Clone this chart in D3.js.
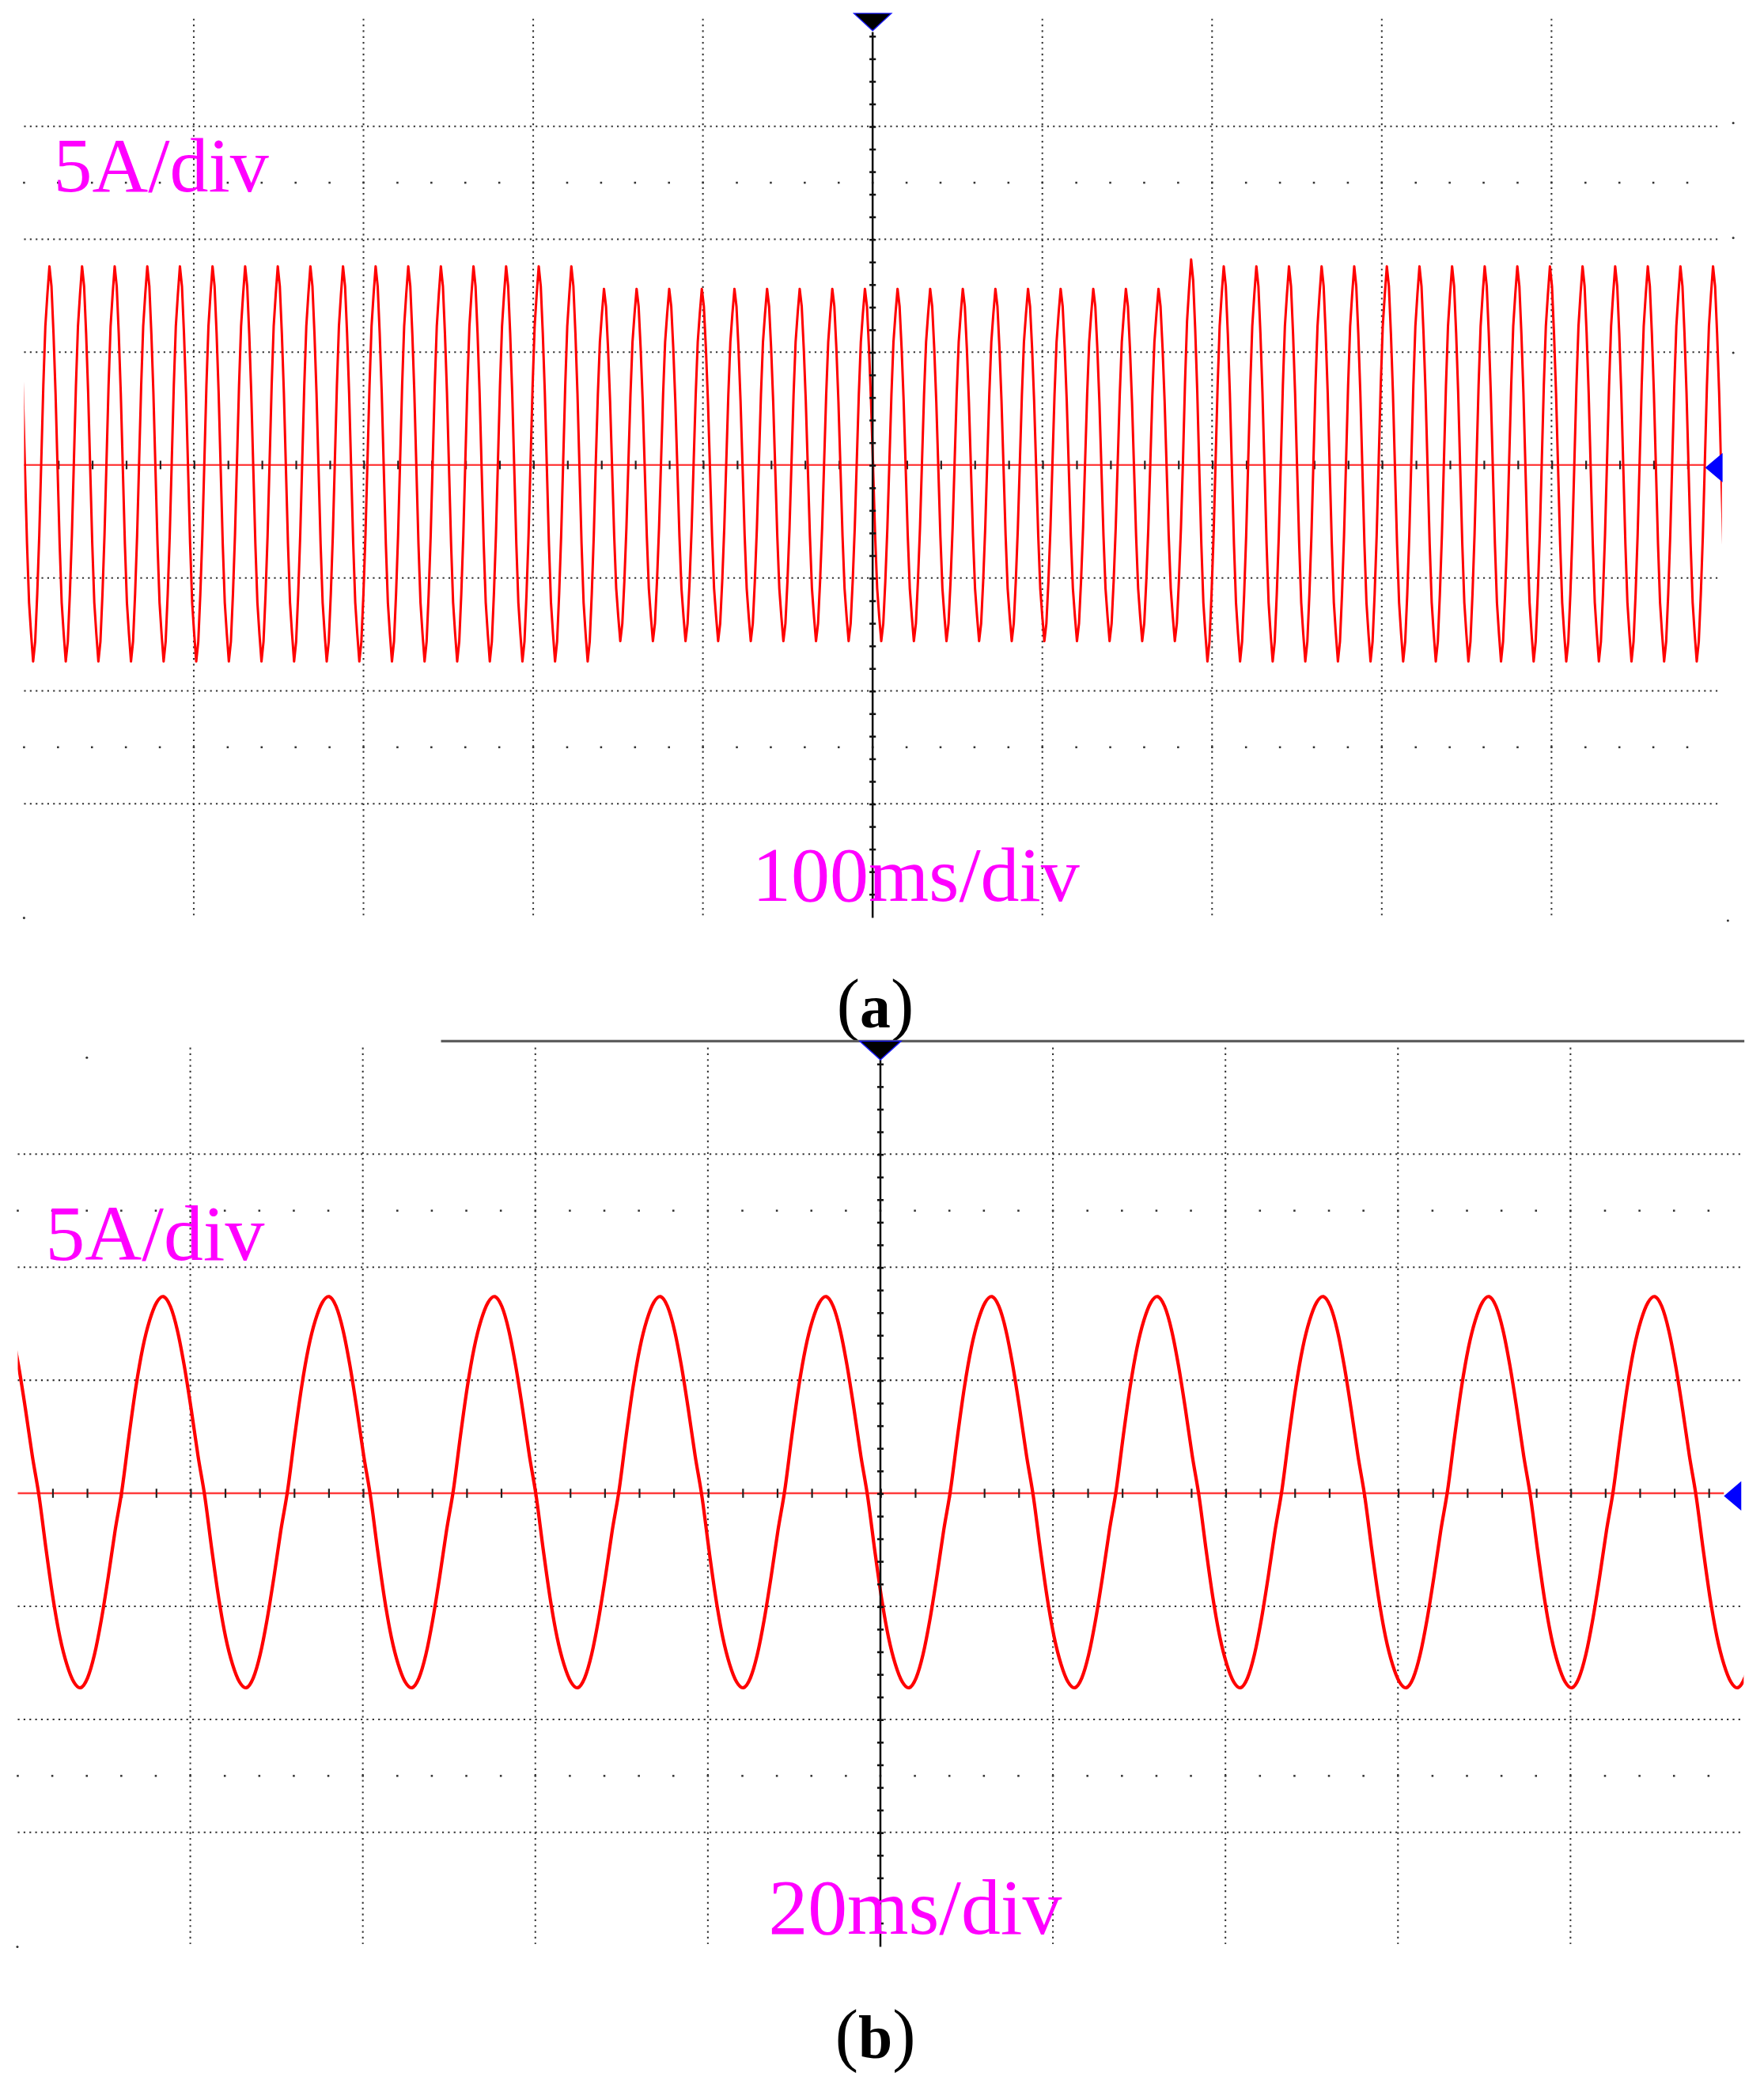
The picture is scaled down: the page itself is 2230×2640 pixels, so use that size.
<!DOCTYPE html>
<html>
<head>
<meta charset="utf-8">
<script src="https://cdn.jsdelivr.net/npm/d3@7"></script>
<style>
    body { margin: 0; background: #fff; }
    svg  { display: block; }
</style>
</head>
<body>
<svg id="chart"></svg>
<script>

// (a) 100 ms/div, 5 A/div: peak / trough current of every cycle (A).
// First entry is the partial cycle before the left edge.
const peaksA = [
    8.8,
    8.8, 8.8, 8.8, 8.8, 8.8, 8.8, 8.8, 8.8, 8.8, 8.8,
    8.8, 8.8, 8.8, 8.8, 8.8, 8.8, 8.8,
    7.8, 7.8, 7.8, 7.8, 7.8, 7.8, 7.8, 7.8, 7.8, 7.8,
    7.8, 7.8, 7.8, 7.8, 7.8, 7.8, 7.8, 7.8,
    9.1,
    8.8, 8.8, 8.8, 8.8, 8.8, 8.8, 8.8, 8.8, 8.8, 8.8,
    8.8, 8.8, 8.8, 8.8, 8.8, 8.8
];
const troughsA = [
    8.7,
    8.7, 8.7, 8.7, 8.7, 8.7, 8.7, 8.7, 8.7, 8.7, 8.7,
    8.7, 8.7, 8.7, 8.7, 8.7, 8.7, 8.7,
    7.8, 7.8, 7.8, 7.8, 7.8, 7.8, 7.8, 7.8, 7.8, 7.8,
    7.8, 7.8, 7.8, 7.8, 7.8, 7.8, 7.8, 7.8,
    8.7,
    8.7, 8.7, 8.7, 8.7, 8.7, 8.7, 8.7, 8.7, 8.7, 8.7,
    8.7, 8.7, 8.7, 8.7, 8.7, 8.7
];
const periodA = 19.22;   // ms
const startA  = -9.07;   // ms, rising zero crossing of the first listed cycle
// one cycle of the (a) trace, from a rising zero crossing, normalised
const shapeA = [0.02, 0.40, 0.70, 0.86, 1.00, 0.90, 0.66, 0.36,
               -0.02, -0.40, -0.70, -0.86, -1.00, -0.90, -0.66, -0.36];

// (b) 20 ms/div, 5 A/div
const peaksB   = [8.7, 8.7, 8.7, 8.7, 8.7, 8.7, 8.7, 8.7, 8.7, 8.7, 8.7];
const troughsB = [8.6, 8.6, 8.6, 8.6, 8.6, 8.6, 8.6, 8.6, 8.6, 8.6, 8.6];
const periodB = 19.21;
const startB  = -7.12;
const shapeB = [0.02, 0.29, 0.54, 0.74, 0.88, 0.97, 1.00, 0.95, 0.83, 0.65, 0.43, 0.19,
               -0.02, -0.29, -0.54, -0.74, -0.88, -0.97, -1.00, -0.95, -0.83, -0.65, -0.43, -0.19];

const timeLabels = ["100ms/div", "20ms/div"];
const ampLabels  = ["5A/div", "5A/div"];
const captions   = ["a", "b"];

// ---------------------------------------------------------------------------

const W = 1320, H = 1562.7;
const svg = d3.select("#chart")
    .attr("width", 2230)
    .attr("height", 2640)
    .attr("viewBox", `0 0 ${W} ${H}`);

const GRID  = "#333";
const DOTS  = "1.3 3.05";
const RED   = "#ff0000";
const PINK  = "#ff00ff";
const SERIF = "Liberation Serif, Times New Roman, serif";

/**
 * Builds the trace points of a repeated cycle shape.
 */
function tracePoints(start, period, peaks, troughs, shape)
{
    let pts = [];
    let n   = shape.length;

    peaks.forEach((pk, c) => {
        shape.forEach((v, j) => {
            pts.push([start + (c + j / n) * period, v >= 0 ? v * pk : v * troughs[c]]);
        });
    });

    return pts;
}

/**
 * Draws one oscilloscope screen.
 */
function drawPanel(p)
{
    let g = svg.append("g");

    let x = d3.scaleLinear().domain([0, p.span]).range([p.left, p.right]);
    let y = d3.scaleLinear().domain([-20, 20]).range([p.bottom, p.top]);

    let divs  = d3.range(0, p.span + 1e-9, p.span / 10);
    let minor = d3.range(0, p.span + 1e-9, p.span / 50);

    // vertical dotted grid
    g.append("g")
        .selectAll("line")
        .data(divs.slice(1, -1).filter((d, i) => i !== 4))
        .join("line")
        .attr("x1", d => x(d)).attr("x2", d => x(d))
        .attr("y1", p.gridTop).attr("y2", y(-20) - 1)
        .attr("stroke", GRID).attr("stroke-width", 1.2)
        .attr("stroke-dasharray", DOTS);

    // horizontal dotted grid
    g.append("g")
        .selectAll("line")
        .data([-15, -10, -5, 5, 10, 15])
        .join("line")
        .attr("x1", x(0)).attr("x2", x(p.span))
        .attr("y1", d => y(d)).attr("y2", d => y(d))
        .attr("stroke", GRID).attr("stroke-width", 1.2)
        .attr("stroke-dasharray", DOTS);

    // sparse dotted rows
    [-12.5, 12.5].forEach(v => {
        g.append("g")
            .selectAll("rect")
            .data(minor.slice(0, -1))
            .join("rect")
            .attr("x", d => x(d) - 0.75).attr("y", y(v) - 0.75)
            .attr("width", 1.5).attr("height", 1.5)
            .attr("fill", GRID);
    });

    // corner / edge dots
    g.append("g")
        .selectAll("circle")
        .data(p.dots)
        .join("circle")
        .attr("cx", d => d[0]).attr("cy", d => d[1])
        .attr("r", 0.9).attr("fill", "#333");

    if (p.topBar) {
        g.append("line")
            .attr("x1", p.topBar).attr("x2", x(p.span) + 1)
            .attr("y1", y(20)).attr("y2", y(20))
            .attr("stroke", "#5e5e5e").attr("stroke-width", 1.8);
    }

    // trace
    let clipId = "clip" + p.id;
    svg.append("clipPath").attr("id", clipId)
        .append("rect")
        .attr("x", x(0)).attr("y", p.top - 20)
        .attr("width", x(p.span) - x(0) + 0.5).attr("height", p.bottom - p.top + 40);

    let line = d3.line()
        .x(d => x(d[0]))
        .y(d => y(d[1]))
        .curve(p.curve);

    // zero reference line with its minor ticks
    g.append("line")
        .attr("x1", x(0)).attr("x2", p.markerTip)
        .attr("y1", y(0)).attr("y2", y(0))
        .attr("stroke", "#ff3b3b").attr("stroke-width", 1.4);

    let xAxis = g.append("g")
        .attr("transform", `translate(0,${y(0) + p.tick})`)
        .call(d3.axisBottom(x).tickValues(minor.slice(1, -1)).tickSize(2 * p.tick).tickFormat(""));
    xAxis.select(".domain").remove();
    xAxis.selectAll(".tick line")
        .attr("y2", -2 * p.tick)
        .attr("stroke", "#222").attr("stroke-width", 1.3);

    g.append("path")
        .datum(tracePoints(p.start, p.period, p.peaks, p.troughs, p.shape))
        .attr("clip-path", `url(#${clipId})`)
        .attr("d", line)
        .attr("fill", "none")
        .attr("stroke", RED)
        .attr("stroke-width", p.traceWidth)
        .attr("stroke-linejoin", "round");

    // centre (time) axis
    let cx = x(p.span / 2);
    g.append("line")
        .attr("x1", cx).attr("x2", cx)
        .attr("y1", p.axisTop).attr("y2", y(-20) + 1)
        .attr("stroke", "#111").attr("stroke-width", 1.5);

    let yAxis = g.append("g")
        .attr("transform", `translate(${cx + 2.4},0)`)
        .call(d3.axisLeft(y).tickValues(d3.range(-19, 20, 1)).tickSize(4.8).tickFormat(""));
    yAxis.select(".domain").remove();
    yAxis.selectAll(".tick line")
        .attr("stroke", "#111").attr("stroke-width", 1.5);

    // trigger marker (top) and level marker (right)
    let tw = p.trigW / 2;
    g.append("path")
        .attr("d", `M${cx - tw},${y(20)}L${cx + tw},${y(20)}L${cx},${y(20) + p.trigH}Z`)
        .attr("fill", "#000").attr("stroke", "#1a1aff").attr("stroke-width", 0.8);

    g.append("path")
        .attr("d", `M${p.markerTip},${y(0) + 2}L${p.markerTip + 13},${y(0) - 9}L${p.markerTip + 13},${y(0) + 13}Z`)
        .attr("fill", "#0000ff");

    // scale labels
    g.append("text")
        .attr("x", p.ampPos[0]).attr("y", p.ampPos[1])
        .attr("font-family", SERIF)
        .attr("font-size", p.fontSize)
        .attr("fill", PINK)
        .text(p.ampLabel);

    g.append("text")
        .attr("x", p.timePos[0]).attr("y", p.timePos[1])
        .attr("font-family", SERIF)
        .attr("font-size", p.fontSize)
        .attr("fill", PINK)
        .text(p.timeLabel);

    // caption
    let cap = svg.append("text")
        .attr("x", 655).attr("y", p.captionY)
        .attr("text-anchor", "middle")
        .attr("font-family", SERIF)
        .attr("font-size", 52)
        .attr("fill", "#000");
    cap.append("tspan").text("(");
    cap.append("tspan").attr("font-weight", "bold").attr("font-size", 46).text(p.caption);
    cap.append("tspan").text(")");
}

drawPanel({
    id: "a", span: 1000,
    left: 18, right: 1288, top: 10, bottom: 686,
    gridTop: 14, axisTop: 24, topBar: null,
    start: startA, period: periodA, peaks: peaksA, troughs: troughsA, shape: shapeA,
    curve: d3.curveLinear, traceWidth: 1.8,
    tick: 3.2, markerTip: 1276, trigW: 28, trigH: 13,
    dots: [[18, 687], [1293, 689], [1297, 92], [1297, 178], [1297, 264]],
    fontSize: 58, ampLabel: ampLabels[0], timeLabel: timeLabels[0],
    ampPos: [40, 143], timePos: [563, 674],
    caption: captions[0], captionY: 769
});

drawPanel({
    id: "b", span: 200,
    left: 13.3, right: 1304.3, top: 779.2, bottom: 1456,
    gridTop: 784, axisTop: 793, topBar: 330,
    start: startB, period: periodB, peaks: peaksB, troughs: troughsB, shape: shapeB,
    curve: d3.curveCardinal, traceWidth: 2.5,
    tick: 3.4, markerTip: 1290, trigW: 31, trigH: 14,
    dots: [[65, 791.5], [13, 1457]],
    fontSize: 59, ampLabel: ampLabels[1], timeLabel: timeLabels[1],
    ampPos: [34, 943], timePos: [575, 1447],
    caption: captions[1], captionY: 1540
});
</script>
</body>
</html>
